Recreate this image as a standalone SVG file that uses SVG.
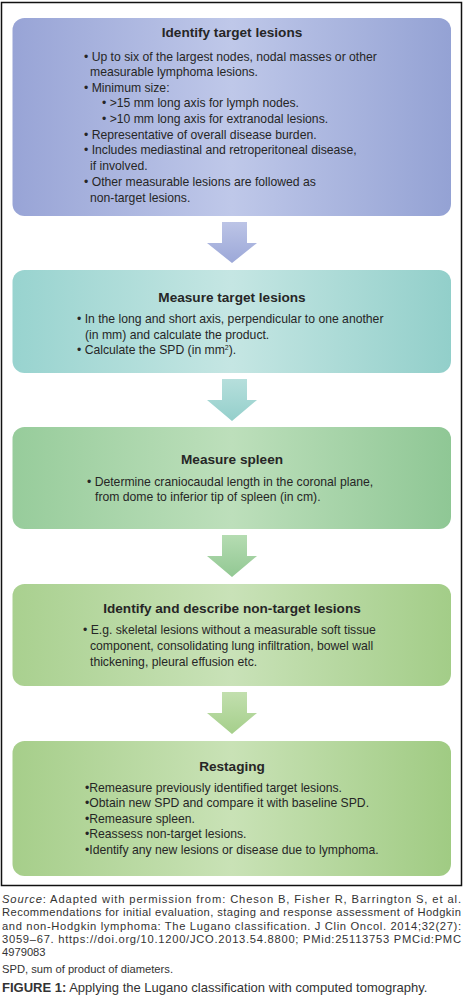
<svg xmlns="http://www.w3.org/2000/svg" width="474" height="1003" viewBox="0 0 474 1003">
<defs>
<style>
.t{font-family:"Liberation Sans",Arial,sans-serif;font-size:13.6px;font-weight:bold;fill:#262626;text-anchor:middle}
.b{font-family:"Liberation Sans",Arial,sans-serif;font-size:12.2px;fill:#262626}
.c{font-family:"Liberation Sans",Arial,sans-serif;font-size:11.2px;fill:#333}
.f{font-family:"Liberation Sans",Arial,sans-serif;font-size:13px;fill:#333}
</style>
<linearGradient id="g1" x1="0" x2="1" y1="0" y2="0"><stop offset="0" stop-color="#98a4d6"/><stop offset="0.5" stop-color="#bfc8e9"/><stop offset="1" stop-color="#94a2d4"/></linearGradient>
<linearGradient id="g2" x1="0" x2="1" y1="0" y2="0"><stop offset="0" stop-color="#98d3cf"/><stop offset="0.5" stop-color="#c5e6e3"/><stop offset="1" stop-color="#92cfca"/></linearGradient>
<linearGradient id="g3" x1="0" x2="1" y1="0" y2="0"><stop offset="0" stop-color="#97cc9b"/><stop offset="0.5" stop-color="#bddfbb"/><stop offset="1" stop-color="#8fc795"/></linearGradient>
<linearGradient id="g4" x1="0" x2="1" y1="0" y2="0"><stop offset="0" stop-color="#a9d08f"/><stop offset="0.5" stop-color="#c9e2b8"/><stop offset="1" stop-color="#a3cd88"/></linearGradient>
<linearGradient id="g5" x1="0" x2="1" y1="0" y2="0"><stop offset="0" stop-color="#a6ce8a"/><stop offset="0.5" stop-color="#c9e2b6"/><stop offset="1" stop-color="#a0cb83"/></linearGradient>
<linearGradient id="a1" x1="0" x2="0" y1="0" y2="1"><stop offset="0" stop-color="#bcc4e6"/><stop offset="1" stop-color="#9ca8d8"/></linearGradient>
<linearGradient id="a2" x1="0" x2="0" y1="0" y2="1"><stop offset="0" stop-color="#b6dfdc"/><stop offset="1" stop-color="#94cfcb"/></linearGradient>
<linearGradient id="a3" x1="0" x2="0" y1="0" y2="1"><stop offset="0" stop-color="#b5dcb2"/><stop offset="1" stop-color="#92c893"/></linearGradient>
<linearGradient id="a4" x1="0" x2="0" y1="0" y2="1"><stop offset="0" stop-color="#c2dfae"/><stop offset="1" stop-color="#a5cf8b"/></linearGradient>
</defs>
<rect width="474" height="1003" fill="#fff"/>
<rect x="1.5" y="2.5" width="460" height="883" fill="none" stroke="#111" stroke-width="1.5"/>

<g id="connectors">
<path d="M222,222 H247 V243 H257 L232,263 L207,243 H222 Z" fill="url(#a1)"/>
<path d="M222,379 H247 V400 H257 L232,421 L207,400 H222 Z" fill="url(#a2)"/>
<path d="M222,535 H247 V556 H257 L232,577 L207,556 H222 Z" fill="url(#a3)"/>
<path d="M222,692 H247 V713 H257 L232,734 L207,713 H222 Z" fill="url(#a4)"/>
</g>

<g id="node1">
<rect x="12.5" y="18" width="438.5" height="198" rx="12" fill="url(#g1)"/>
<text class="t" x="232" y="37">Identify target lesions</text>
<text class="b" x="84" y="61">• Up to six of the largest nodes, nodal masses or other</text>
<text class="b" x="90" y="76">measurable lymphoma lesions.</text>
<text class="b" x="84" y="92">• Minimum size:</text>
<text class="b" x="102" y="107">• &gt;15 mm long axis for lymph nodes.</text>
<text class="b" x="102" y="123">• &gt;10 mm long axis for extranodal lesions.</text>
<text class="b" x="84" y="139">• Representative of overall disease burden.</text>
<text class="b" x="84" y="154">• Includes mediastinal and retroperitoneal disease,</text>
<text class="b" x="90" y="170">if involved.</text>
<text class="b" x="84" y="186">• Other measurable lesions are followed as</text>
<text class="b" x="90" y="202">non-target lesions.</text>
</g>

<g id="node2">
<rect x="12.5" y="270" width="438.5" height="103" rx="12" fill="url(#g2)"/>
<text class="t" x="232" y="302">Measure target lesions</text>
<text class="b" x="77" y="323">• In the long and short axis, perpendicular to one another</text>
<text class="b" x="85" y="339">(in mm) and calculate the product.</text>
<text class="b" x="77" y="354">• Calculate the SPD (in mm<tspan font-size="7" dy="-4">2</tspan><tspan dy="4">).</tspan></text>
</g>

<g id="node3">
<rect x="12.5" y="427" width="438.5" height="102" rx="12" fill="url(#g3)"/>
<text class="t" x="232" y="464">Measure spleen</text>
<text class="b" x="87" y="486">• Determine craniocaudal length in the coronal plane,</text>
<text class="b" x="95" y="501">from dome to inferior tip of spleen (in cm).</text>
</g>

<g id="node4">
<rect x="12.5" y="584" width="438.5" height="102" rx="12" fill="url(#g4)"/>
<text class="t" x="232" y="613">Identify and describe non-target lesions</text>
<text class="b" x="83" y="634">• E.g. skeletal lesions without a measurable soft tissue</text>
<text class="b" x="90" y="650">component, consolidating lung infiltration, bowel wall</text>
<text class="b" x="90" y="666">thickening, pleural effusion etc.</text>
</g>

<g id="node5">
<rect x="12.5" y="741" width="438.5" height="135" rx="12" fill="url(#g5)"/>
<text class="t" x="232" y="771">Restaging</text>
<text class="b" x="85" y="792">•Remeasure previously identified target lesions.</text>
<text class="b" x="85" y="807">•Obtain new SPD and compare it with baseline SPD.</text>
<text class="b" x="85" y="823">•Remeasure spleen.</text>
<text class="b" x="85" y="838">•Reassess non-target lesions.</text>
<text class="b" x="85" y="854">•Identify any new lesions or disease due to lymphoma.</text>
</g>

<g id="caption">
<text class="c" x="2" y="903" textLength="459" lengthAdjust="spacing"><tspan font-style="italic">Source</tspan>: Adapted with permission from: Cheson B, Fisher R, Barrington S, et al.</text>
<text class="c" x="2" y="916" textLength="459" lengthAdjust="spacing">Recommendations for initial evaluation, staging and response assessment of Hodgkin</text>
<text class="c" x="2" y="930" textLength="459" lengthAdjust="spacing">and non-Hodgkin lymphoma: The Lugano classification. J Clin Oncol. 2014;32(27):</text>
<text class="c" x="2" y="943" textLength="459" lengthAdjust="spacing">3059–67. https://doi.org/10.1200/JCO.2013.54.8800; PMid:25113753 PMCid:PMC</text>
<text class="c" x="2" y="956">4979083</text>
<text class="c" x="2" y="973">SPD, sum of product of diameters.</text>
<text class="f" x="2" y="992"><tspan font-weight="bold">FIGURE 1:</tspan> Applying the Lugano classification with computed tomography.</text>
</g>
</svg>
